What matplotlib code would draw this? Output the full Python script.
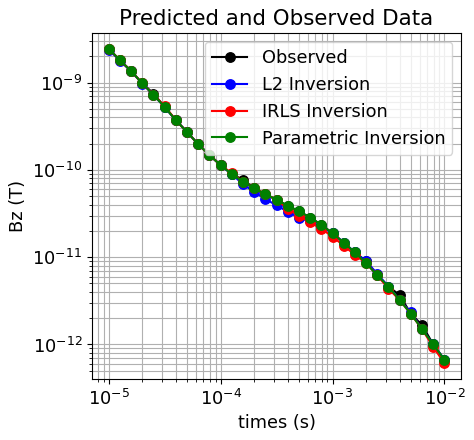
import numpy as np
import matplotlib
matplotlib.use("Agg")
import matplotlib.pyplot as plt

plt.rcParams['font.size'] = 12.8

times = np.logspace(-5, -2, 31)

observed = [2.45e-9, 1.81e-9, 1.36e-9, 9.82e-10, 7.51e-10, 5.26e-10, 3.71e-10, 2.72e-10,
            1.97e-10, 1.48e-10, 1.135e-10, 8.95e-11, 7.73e-11, 6.14e-11, 5.29e-11, 4.54e-11,
            3.89e-11, 3.36e-11, 2.85e-11, 2.35e-11, 1.885e-11, 1.47e-11, 1.135e-11, 9.00e-12,
            6.19e-12, 4.61e-12, 3.68e-12, 2.24e-12, 1.67e-12, 1.00e-12, 6.70e-13]
l2 = [2.40e-9, 1.79e-9, 1.35e-9, 9.78e-10, 7.22e-10, 5.26e-10, 3.71e-10, 2.72e-10,
      1.97e-10, 1.48e-10, 1.135e-10, 8.95e-11, 6.86e-11, 5.60e-11, 4.64e-11, 3.93e-11,
      3.32e-11, 2.83e-11, 2.57e-11, 2.23e-11, 1.885e-11, 1.47e-11, 1.135e-11, 9.00e-12,
      6.44e-12, 4.61e-12, 3.23e-12, 2.33e-12, 1.50e-12, 1.00e-12, 6.70e-13]
irls = [2.45e-9, 1.81e-9, 1.36e-9, 9.82e-10, 7.22e-10, 5.40e-10, 3.71e-10, 2.72e-10,
        1.97e-10, 1.48e-10, 1.135e-10, 9.19e-11, 7.33e-11, 6.14e-11, 5.29e-11, 4.54e-11,
        3.59e-11, 2.98e-11, 2.50e-11, 2.12e-11, 1.72e-11, 1.356e-11, 1.062e-11, 8.54e-12,
        6.19e-12, 4.37e-12, 3.23e-12, 2.24e-12, 1.50e-12, 9.36e-13, 6.11e-13]
parametric = [2.45e-9, 1.81e-9, 1.36e-9, 9.82e-10, 7.22e-10, 5.26e-10, 3.71e-10, 2.72e-10,
              1.97e-10, 1.48e-10, 1.135e-10, 8.95e-11, 7.33e-11, 6.14e-11, 5.29e-11, 4.54e-11,
              3.89e-11, 3.36e-11, 2.85e-11, 2.35e-11, 1.885e-11, 1.47e-11, 1.135e-11, 8.54e-12,
              6.19e-12, 4.61e-12, 3.23e-12, 2.24e-12, 1.50e-12, 1.00e-12, 6.70e-13]

fig, ax = plt.subplots(figsize=(4.74, 4.4), dpi=100)
fig.subplots_adjust(left=0.194, right=0.973, top=0.925, bottom=0.139)

ms = 6.8
ax.loglog(times, observed, 'ko-', ms=ms, label='Observed')
ax.loglog(times, l2, 'bo-', ms=ms, label='L2 Inversion')
ax.loglog(times, irls, 'ro-', ms=ms, label='IRLS Inversion')
ax.loglog(times, parametric, 'go-', ms=ms, label='Parametric Inversion')

ax.grid(True, which='both')
ax.set_xlabel('times (s)')
ax.set_ylabel('Bz (T)')
ax.set_title('Predicted and Observed Data')
ax.legend(loc='upper right')

fig.savefig('out.png', dpi=100)
